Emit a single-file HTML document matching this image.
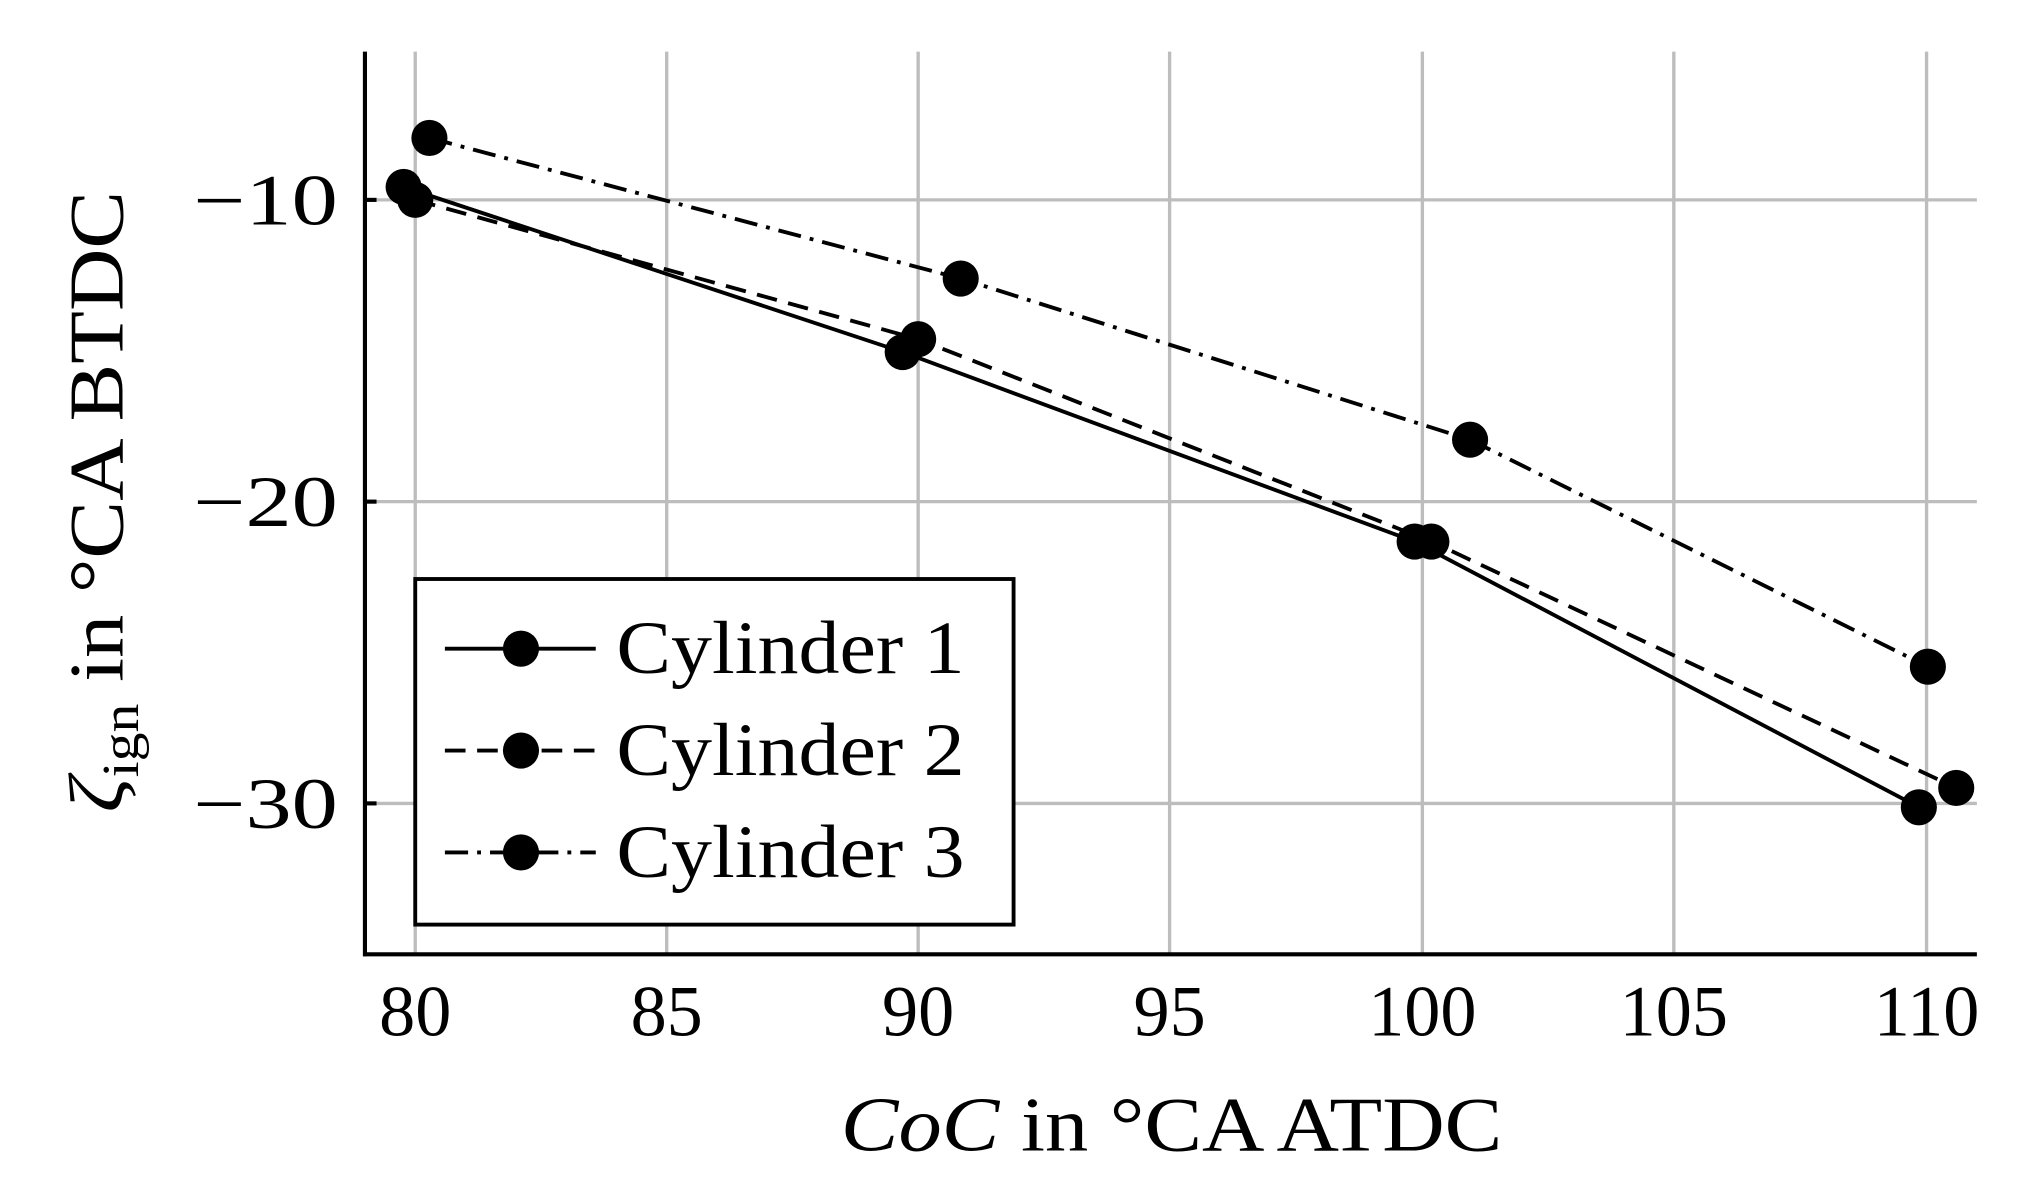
<!DOCTYPE html>
<html><head><style>html,body{margin:0;padding:0;background:#fff}svg{display:block}</style></head>
<body>
<svg width="2022" height="1186" viewBox="0 0 1568 919.7" preserveAspectRatio="none" xmlns="http://www.w3.org/2000/svg" font-family="Liberation Serif, serif">
<g stroke="#bdbdbd" stroke-width="2.6">
<line x1="322" y1="40" x2="322" y2="740"/><line x1="517" y1="40" x2="517" y2="740"/><line x1="712" y1="40" x2="712" y2="740"/><line x1="907" y1="40" x2="907" y2="740"/><line x1="1103" y1="40" x2="1103" y2="740"/><line x1="1298" y1="40" x2="1298" y2="740"/><line x1="1494" y1="40" x2="1494" y2="740"/>
<line x1="283" y1="155" x2="1533" y2="155"/><line x1="283" y1="389" x2="1533" y2="389"/><line x1="283" y1="623" x2="1533" y2="623"/>
</g>
<g stroke="#000" stroke-width="3.2">
<line x1="283" y1="40" x2="283" y2="741.5"/><line x1="281.5" y1="740" x2="1533" y2="740"/>
<line x1="283" y1="155" x2="292" y2="155"/><line x1="283" y1="389" x2="292" y2="389"/><line x1="283" y1="623" x2="292" y2="623"/>
</g>
<g fill="none" stroke="#000" stroke-width="3">
<polyline points="313,145 700,273 1097,420 1488,626"/>
<polyline points="322,155 712,263 1110,420 1517,611" stroke-dasharray="16 9"/>
<polyline points="333,107 745,216 1140,341 1495,517" stroke-dasharray="18 7 3 7"/>
</g>
<g fill="#000">
<circle cx="313" cy="145" r="14"/><circle cx="700" cy="273" r="14"/><circle cx="1097" cy="420" r="14"/><circle cx="1488" cy="626" r="14"/>
<circle cx="322" cy="155" r="14"/><circle cx="712" cy="263" r="14"/><circle cx="1110" cy="420" r="14"/><circle cx="1517" cy="611" r="14"/>
<circle cx="333" cy="107" r="14"/><circle cx="745" cy="216" r="14"/><circle cx="1140" cy="341" r="14"/><circle cx="1495" cy="517" r="14"/>
</g>
<rect x="322" y="449" width="464" height="268" fill="#fff" stroke="#000" stroke-width="3"/>
<g stroke="#000" stroke-width="3">
<line x1="345" y1="503" x2="462" y2="503"/>
<line x1="345" y1="582" x2="462" y2="582" stroke-dasharray="16 9"/>
<line x1="345" y1="661" x2="462" y2="661" stroke-dasharray="18 7 3 7"/>
</g>
<g fill="#000"><circle cx="404" cy="503" r="14"/><circle cx="404" cy="582" r="14"/><circle cx="404" cy="661" r="14"/></g>
<g font-size="58" fill="#000">
<text x="478" y="522" textLength="270" lengthAdjust="spacingAndGlyphs">Cylinder 1</text><text x="478" y="601" textLength="270" lengthAdjust="spacingAndGlyphs">Cylinder 2</text><text x="478" y="680" textLength="270" lengthAdjust="spacingAndGlyphs">Cylinder 3</text>
</g>
<g font-size="56" fill="#000" text-anchor="middle">
<text x="322" y="803">80</text><text x="517" y="803">85</text><text x="712" y="803">90</text><text x="907" y="803">95</text><text x="1103" y="803">100</text><text x="1298" y="803">105</text><text x="1494" y="803">110</text>
</g>
<g font-size="56" fill="#000">
<text x="150" y="174" textLength="112" lengthAdjust="spacingAndGlyphs">−10</text><text x="150" y="408" textLength="112" lengthAdjust="spacingAndGlyphs">−20</text><text x="150" y="642" textLength="112" lengthAdjust="spacingAndGlyphs">−30</text>
</g>
<text x="652" y="892" font-size="60" textLength="513" lengthAdjust="spacingAndGlyphs"><tspan font-style="italic">CoC</tspan> in °CA ATDC</text>
<text transform="translate(95,630) rotate(-90)" font-size="60" textLength="482" lengthAdjust="spacingAndGlyphs"><tspan font-style="italic">ζ</tspan><tspan font-size="40" dy="12">ign</tspan><tspan dy="-12"> in °CA BTDC</tspan></text>
</svg>
</body></html>
